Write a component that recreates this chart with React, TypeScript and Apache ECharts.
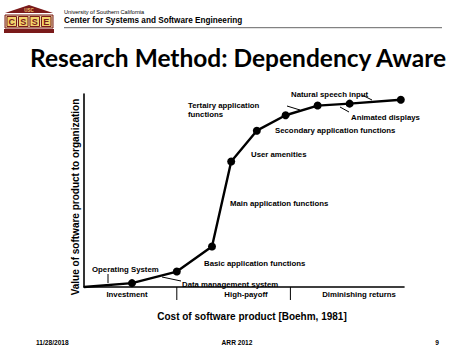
import React, { useEffect, useRef } from "react";
import * as echarts from "echarts";

// Cost (x) vs value (y), in relative units 0..100
const costValues = [0, 15, 29, 40, 46, 54, 63, 73, 83, 99];
const valueValues = [0, 2, 8, 21, 65, 81, 89, 94, 95, 97];
const markerFlags = [false, true, true, true, true, true, true, true, true, true];
const segmentLabels = ["Investment", "High-payoff", "Diminishing returns"];
const segmentBounds = [29, 64.5]; // cost values where segments split
const annotationTexts = [
  "Natural speech input",
  "Tertairy application\nfunctions",
  "Secondary application functions",
  "Animated displays",
  "User amenities",
  "Main application functions",
  "Basic application functions",
  "Operating System",
  "Data management system",
];
const titleText = "Research Method: Dependency Aware";
const xAxisTitle = "Cost of software product [Boehm, 1981]";
const yAxisTitle = "Value of software product to organization";
const footerTexts = ["11/28/2018", "ARR 2012", "9"];

const ARIAL = "Liberation Sans, Arial, sans-serif";

export default function App() {
  const ref = useRef<HTMLDivElement>(null);
  useEffect(() => {
    if (!ref.current) return;
    const chart = echarts.init(ref.current, null, { renderer: "svg" });
    const gridLeft = 84;
    const gridTop = 94;
    const gridW = 320;
    const gridH = 193;
    const xPix = (v: number) => gridLeft + (v / 100) * gridW;
    const baseY = gridTop + gridH;

    const txt = (text: string, x: number, y: number, size: number, opts: any = {}) => ({
      type: "text",
      x,
      y,
      style: {
        text,
        font: `${opts.weight ?? "bold"} ${size}px ${opts.family ?? ARIAL}`,
        fill: opts.fill ?? "#000",
        textAlign: opts.align ?? "left",
        textVerticalAlign: opts.valign ?? "middle",
        lineHeight: opts.lineHeight,
      },
      rotation: opts.rotation ?? 0,
      silent: true,
    });
    const ln = (x1: number, y1: number, x2: number, y2: number, w = 1, c = "#000") => ({
      type: "line",
      shape: { x1, y1, x2, y2 },
      style: { stroke: c, lineWidth: w },
      silent: true,
    });

    const data = costValues.map((c, i) => ({
      value: [c, valueValues[i]],
      symbolSize: markerFlags[i] ? 8 : 0,
    }));

    const labelSize = 7.8;
    const graphics: any[] = [
      // logo
      { type: "polygon", shape: { points: [[5, 13], [29, 5], [53, 13]] }, style: { fill: "#7a1a1a" } },
      txt("USC", 29, 10.5, 4.5, { align: "center", fill: "#f0c870" }),
      { type: "rect", shape: { x: 5, y: 15, width: 48, height: 13 }, style: { fill: "#e8d9a8", stroke: "#7a1a1a", lineWidth: 1 } },
      ...["C", "S", "S", "E"].map((l, i) => ({
        type: "rect",
        shape: { x: 7 + i * 11.5, y: 16.5, width: 9.5, height: 10 },
        style: { fill: "#f2d36b", stroke: "#7a1a1a", lineWidth: 1 },
      })),
      ...["C", "S", "S", "E"].map((l, i) => txt(l, 11.75 + i * 11.5, 21.8, 9, { align: "center", fill: "#7a1a1a" })),
      { type: "rect", shape: { x: 4, y: 29, width: 50, height: 4 }, style: { fill: "#7a1a1a" } },
      // header
      txt("University of Southern California", 64, 11.5, 5.6, { weight: "normal" }),
      txt("Center for Systems and Software Engineering", 64, 20.7, 8.2),
      ln(64, 27.7, 442, 27.7, 1, "#666"),
      // title
      txt(titleText, 238, 57, 24.5, { align: "center", family: "Lato, Noto Sans, sans-serif" }),
      // axis titles
      txt(xAxisTitle, 252, 316, 10, { align: "center" }),
      txt(yAxisTitle, 75, 197, 10, { align: "center", rotation: Math.PI / 2 }),
      // segment dividers & labels
      ...segmentBounds.map((b) => ln(xPix(b), baseY, xPix(b), 300, 1)),
      txt(segmentLabels[0], 127, 294, labelSize, { align: "center" }),
      txt(segmentLabels[1], 246, 294, labelSize, { align: "center" }),
      txt(segmentLabels[2], 359, 294, labelSize, { align: "center" }),
      // annotations
      txt(annotationTexts[0], 291, 94.5, labelSize),
      txt(annotationTexts[1], 188, 100.5, labelSize, { valign: "top", lineHeight: 9.5 }),
      txt(annotationTexts[2], 275, 130, labelSize),
      txt(annotationTexts[3], 351, 117, labelSize),
      txt(annotationTexts[4], 251, 154, labelSize),
      txt(annotationTexts[5], 230, 203, labelSize),
      txt(annotationTexts[6], 204, 263, labelSize),
      txt(annotationTexts[7], 92, 269, labelSize),
      txt(annotationTexts[8], 182, 284.5, labelSize),
      // leader lines
      ln(362, 95, 372, 100),
      ln(287, 106, 300, 110),
      ln(340, 107, 349, 112),
      ln(108, 274, 108, 283),
      ln(162, 277, 181, 281),
      // footer
      txt(footerTexts[0], 36, 342, 6.6),
      txt(footerTexts[1], 237, 342, 6.6, { align: "center" }),
      txt(footerTexts[2], 437, 342, 6.6, { align: "center" }),
    ];
    chart.setOption({
      animation: false,
      backgroundColor: "#fff",
      grid: { left: gridLeft, top: gridTop, width: gridW, height: gridH },
      xAxis: {
        type: "value",
        min: 0,
        max: 100,
        axisLine: { show: true, lineStyle: { color: "#000", width: 1.6 } },
        axisTick: { show: false },
        axisLabel: { show: false },
        splitLine: { show: false },
      },
      yAxis: {
        type: "value",
        min: 0,
        max: 100,
        axisLine: { show: true, lineStyle: { color: "#000", width: 1.6 } },
        axisTick: { show: false },
        axisLabel: { show: false },
        splitLine: { show: false },
      },
      series: [
        {
          type: "line",
          data,
          symbol: "circle",
          lineStyle: { color: "#000", width: 2.4 },
          itemStyle: { color: "#000" },
          clip: false,
        },
      ],
      graphic: graphics,
    });
    return () => chart.dispose();
  }, []);
  return (
    <div
      ref={ref}
      style={{ position: "fixed", left: 0, top: 0, width: 474, height: 355, background: "#fff" }}
    />
  );
}
